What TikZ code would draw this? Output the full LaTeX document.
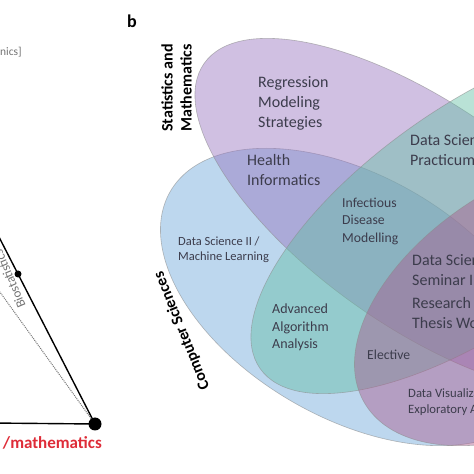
\documentclass[tikz,border=0pt]{standalone}
\usepackage{fontspec}
\setmainfont{Carlito}
\usepackage{xcolor}
\usepackage{tikz}

\definecolor{setblue}{RGB}{108,166,217}
\definecolor{setpurple}{RGB}{150,115,190}
\definecolor{setgreen}{RGB}{100,190,165}
\definecolor{setpink}{RGB}{170,90,140}
\definecolor{labelgray}{RGB}{60,60,76}
\definecolor{axisred}{RGB}{222,44,56}

\begin{document}
\begin{tikzpicture}[x=1pt, y=1pt,
    set/.style={fill opacity=0.45, draw=black!45, draw opacity=0.6, line width=0.6pt},
    region/.style={align=left, anchor=west, inner sep=0pt, text=labelgray},
    axistitle/.style={font=\bfseries\fontsize{16}{19}\selectfont, align=center, inner sep=0pt},
    dot/.style={circle, fill=black, inner sep=0pt}
]
\useasboundingbox (0,0) rectangle (474,474);
\clip (0,0) rectangle (474,474);

% Panel a (cut off on the left)
\coordinate (bioEnd) at (-10,254.5);
\coordinate (dotEnd) at (-10,195.7);
\coordinate (baseEnd) at (-10,51);
\node[dot, minimum size=13pt] (stat) at (95,50) {};
\node[dot, minimum size=7pt] (bio) at (18,200) {};
\draw[line width=1.4pt] (bioEnd) -- (stat.center);
\draw[black!55, densely dotted, line width=1pt] (dotEnd) -- (stat);
\draw[line width=1.4pt] (baseEnd) -- (stat.center);

\node[text=black!55, font=\fontsize{11.5}{14}\selectfont, anchor=west, inner sep=0pt]
  (dimlabel) at (0,422) {nics]};
\node[text=black!55, font=\fontsize{13}{15}\selectfont, rotate=113, anchor=base west,
      inner sep=0pt] (biolabel) at (26,168) {Biostatistics};
\node[text=axisred, font=\bfseries\fontsize{17}{20}\selectfont, anchor=east, inner sep=0pt]
  (mathlabel) at (102,31) {/mathematics};

% Panel b: four sets
\filldraw[set, fill=setblue, rotate around={-30:(353,177)}]
  (353,177) ellipse [x radius=211, y radius=121];
\filldraw[set, fill=setpurple, rotate around={-35:(422,258)}]
  (422,258) ellipse [x radius=266, y radius=111];
\filldraw[set, fill=setgreen, rotate around={35:(478,258)}]
  (478,258) ellipse [x radius=266, y radius=111];
\filldraw[set, fill=setpink, rotate around={30:(547,177)}]
  (547,177) ellipse [x radius=211, y radius=121];

\node[font=\bfseries\fontsize{18}{20}\selectfont, inner sep=0pt] (panelb) at (132,453) {b};
\node[axistitle, rotate=90] (stattitle) at (176.5,386) {Statistics and\\Mathematics};
\node[axistitle, rotate=112] (cstitle) at (182,143) {Computer Sciences};

% Courses
\node[region, font=\fontsize{16}{20}\selectfont] (rms) at (258,371)
  {Regression\\Modeling\\Strategies};
\node[region, font=\fontsize{16}{20}\selectfont] (hinf) at (247,304)
  {Health\\Informatics};
\node[region, font=\fontsize{16}{20}\selectfont] (dsp) at (410,324)
  {Data Science\\Practicum};
\node[region, font=\fontsize{13.7}{17.5}\selectfont] (idm) at (342,253)
  {Infectious\\Disease\\Modelling};
\node[region, font=\fontsize{12.5}{15.5}\selectfont] (dsml) at (178,224.5)
  {Data Science II /\\Machine Learning};
\node[region, font=\fontsize{14}{17.5}\selectfont] (aaa) at (272,146.5)
  {Advanced\\Algorithm\\Analysis};
\node[region, font=\fontsize{13.7}{16}\selectfont] (elec) at (367,119) {Elective};
\node[region, font=\fontsize{16}{20}\selectfont] (sem) at (412,204)
  {Data Science\\Seminar I};
\node[region, font=\fontsize{16}{20}\selectfont] (rtw) at (412,161)
  {Research\\Thesis Work};
\node[region, font=\fontsize{12.7}{16}\selectfont] (dva) at (408,72)
  {Data Visualization\\Exploratory Analysis};

\end{tikzpicture}
\end{document}
